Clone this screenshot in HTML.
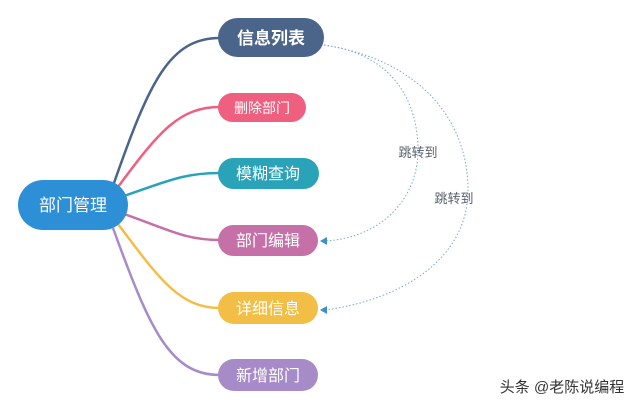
<!DOCTYPE html>
<html><head><meta charset="utf-8"><style>
body{margin:0;background:#fff;width:640px;height:410px;overflow:hidden;font-family:"Liberation Sans","Noto Sans CJK SC",sans-serif}
</style></head><body>
<svg width="640" height="410" xmlns="http://www.w3.org/2000/svg" style="position:absolute;left:0;top:0">
<g fill="none" stroke-width="2.5">
<path d="M114 183 C150 80,170 38,220 38" stroke="#4a6589"/>
<path d="M118 187 C160 130,180 107,220 107" stroke="#ee5f80"/>
<path d="M124 196 C170 180,185 173,220 173" stroke="#2aa3b9"/>
<path d="M124 214 C170 230,185 240,220 240" stroke="#c571a8"/>
<path d="M118 224 C160 280,180 308,220 308" stroke="#f3be45"/>
<path d="M113 228 C150 330,170 375,220 375" stroke="#a78bc9"/>
</g>
<g fill="none" stroke="#7aa8c8" stroke-width="1" stroke-dasharray="1.5,2">
<path d="M324 45 C400 55,418 110,418 150 C418 200,380 238,325 241"/>
<path d="M324 45 C420 60,468 120,468 190 C468 260,400 300,325 310"/>
</g>
<polygon points="320,241 327,237 327,245" fill="#3a8fd0"/>
<polygon points="320,310 327,306 327,314" fill="#3a8fd0"/>
<rect x="18" y="180" width="110" height="50" rx="25" fill="#2d8fd6"/>
<rect x="218" y="18" width="106" height="39" rx="19.5" fill="#4a6589"/>
<rect x="218" y="93" width="88" height="29" rx="14.5" fill="#ee5f80"/>
<rect x="218" y="158" width="101" height="31" rx="15.5" fill="#2aa3b9"/>
<rect x="218" y="225" width="100" height="31" rx="15.5" fill="#c571a8"/>
<rect x="218" y="292" width="100" height="32" rx="16" fill="#f3be45"/>
<rect x="218" y="359" width="100" height="32" rx="16" fill="#a78bc9"/>
<g fill="#fff" text-anchor="middle" font-family="Liberation Sans,Noto Sans CJK SC,sans-serif">
<text x="73" y="211" font-size="17">部门管理</text>
<text x="271" y="44" font-size="17" font-weight="bold">信息列表</text>
<text x="262" y="113" font-size="14">删除部门</text>
<text x="268" y="179" font-size="16">模糊查询</text>
<text x="268" y="246" font-size="16">部门编辑</text>
<text x="268" y="314" font-size="16">详细信息</text>
<text x="268" y="381" font-size="16">新增部门</text>
</g>
<g fill="#555f6e" font-size="13" text-anchor="middle" font-family="Liberation Sans,Noto Sans CJK SC,sans-serif">
<text x="418" y="157">跳转到</text>
<text x="454" y="203">跳转到</text>
</g>
<text x="562" y="392" font-size="15" text-anchor="middle" fill="#333" font-family="Liberation Sans,Noto Sans CJK SC,sans-serif">头条 @老陈说编程</text>
</svg>
</body></html>
